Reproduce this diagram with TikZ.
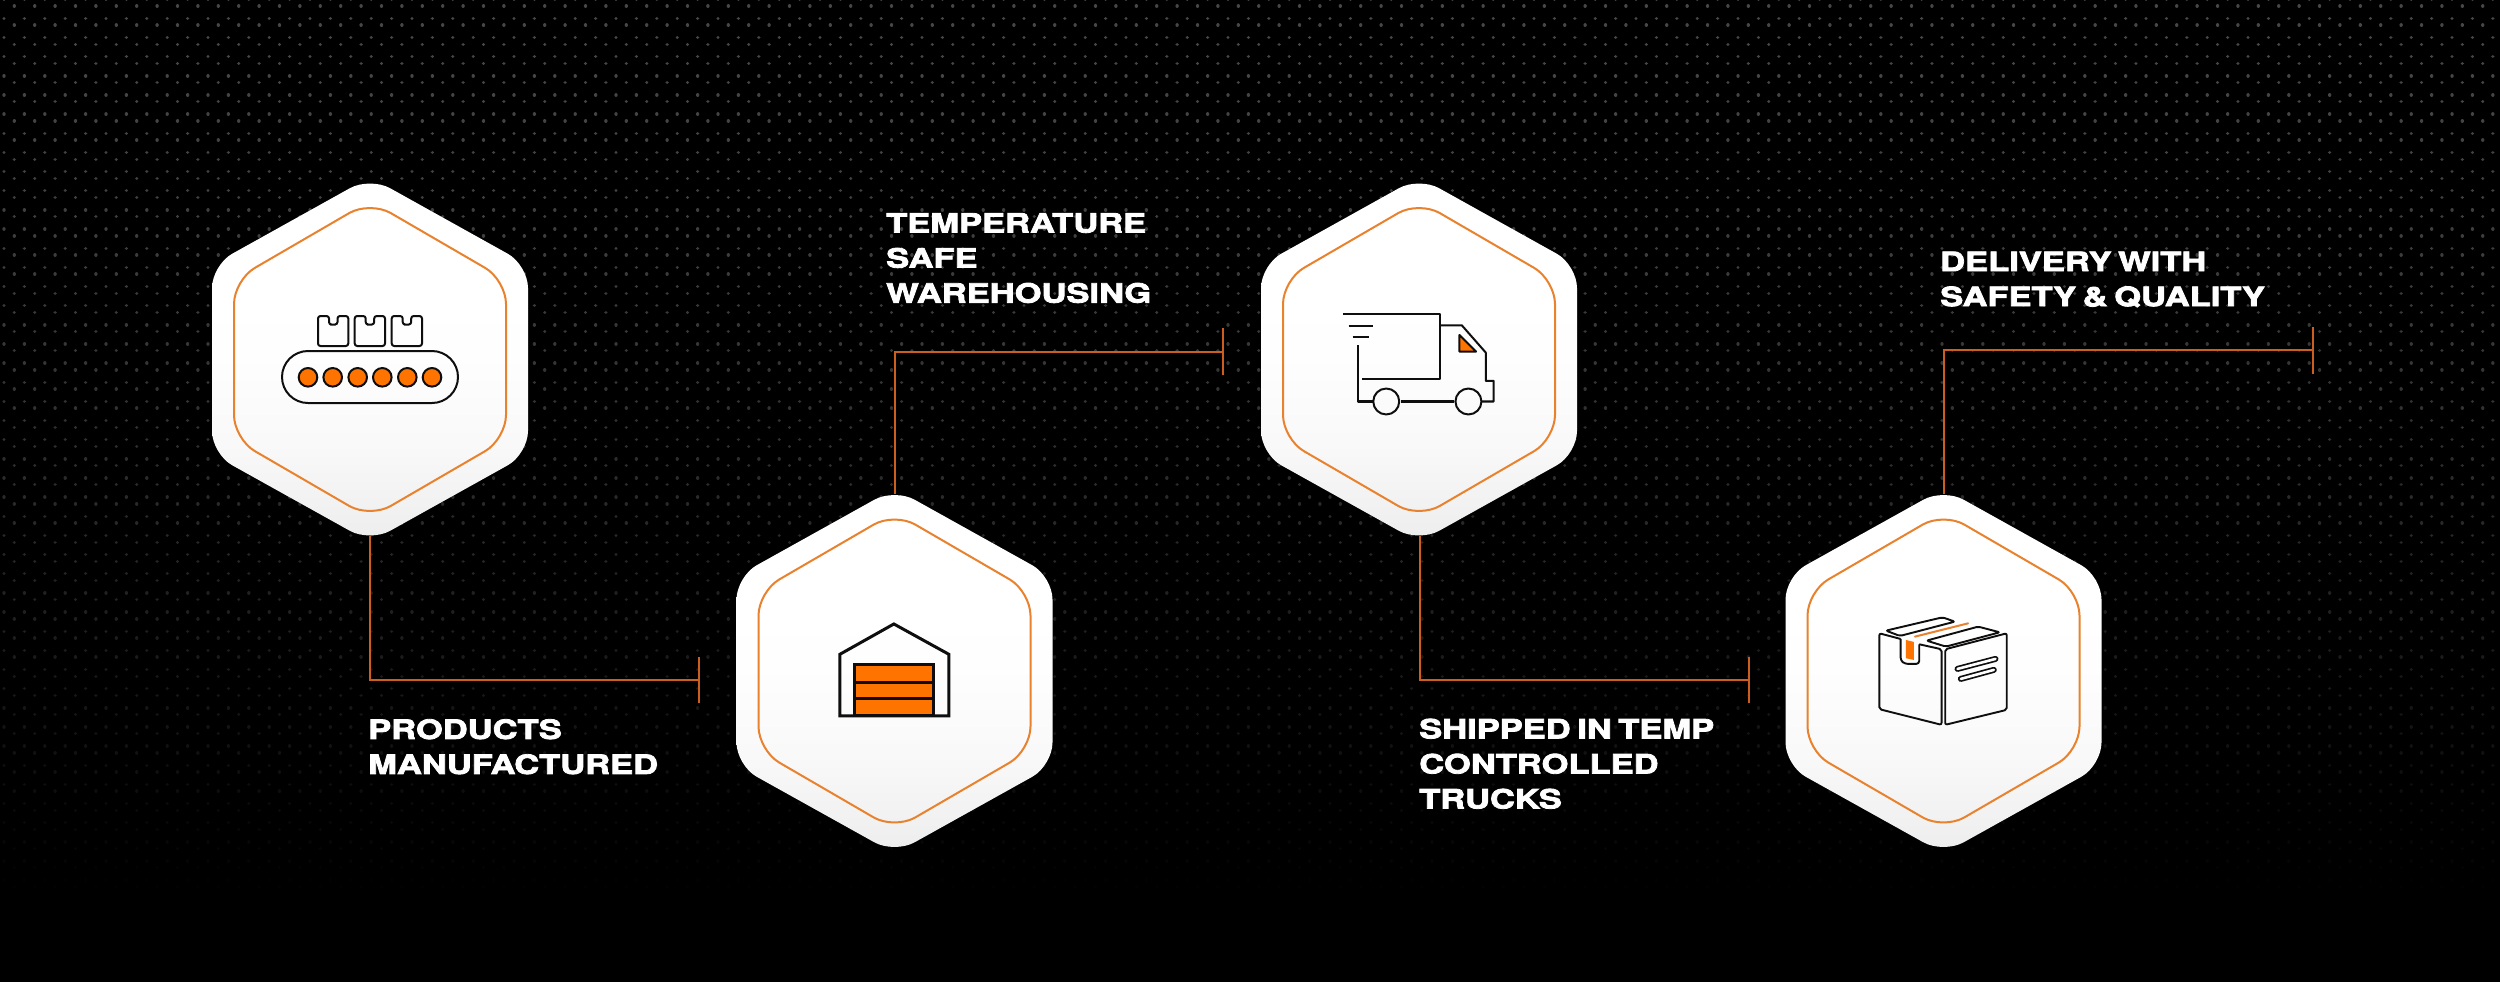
\documentclass[tikz,border=0pt]{standalone}
\usepackage{fontspec}
\newfontfamily\lblfont[FakeStretch=1.3,FakeBold=3,WordSpace=0.68]{TeX Gyre Heros Bold}
\definecolor{ink}{HTML}{0E0E0E}
\definecolor{orfill}{HTML}{FF7300}
\definecolor{orline}{HTML}{E8822E}
\definecolor{conncol}{HTML}{CC5E20}
\newlength{\pxl}\setlength{\pxl}{0.28453pt}
\pgfdeclareverticalshading{cellshade}{100bp}{color(0bp)=(black!7); color(25bp)=(black!7); color(38bp)=(black!2.5); color(50bp)=(black!0.5); color(58bp)=(white); color(100bp)=(white)}
\tikzset{
  hexbox/.style={minimum width=316\pxl,minimum height=352\pxl,inner sep=0pt,draw=none},
  conn/.style={draw=conncol,line width=2\pxl},
  icon/.style={draw=ink,line width=2\pxl,line join=round},
  parcel/.style={draw=ink,line width=1.9\pxl,line join=round},
  lbl/.style={anchor=north west,inner sep=0pt,align=left,text=white,font=\lblfont\fontsize{7.55pt}{9.96pt}\selectfont},
  zoomed/.style={shift={#1},x=0.0033333cm,y=-0.0033333cm},
  dotrow/.style={line width=3.4\pxl,line cap=round}
}
\newcommand{\hexcell}[4]{%
  \begin{scope}[shift={(#2,#3)}]
    \shade[shading=cellshade,rounded corners=23\pxl]
      (158,0) -- (158,94.5) -- (0,182.5) -- (-158,94.5) -- (-158,-94.5) -- (0,-182.5) -- (158,-94.5) -- cycle;
    \draw[draw=orline,line width=2\pxl,rounded corners=24\pxl]
      (136,0) -- (136,79.5) -- (0,158.5) -- (-136,79.5) -- (-136,-79.5) -- (0,-158.5) -- (136,-79.5) -- cycle;
  \end{scope}%
  \node[hexbox] (#1) at (#4,#3) {};%
}
\begin{document}
\begin{tikzpicture}[x=0.01cm,y=-0.01cm]
\useasboundingbox (0,0) rectangle (2500,981);
\fill[black] (-10,-10) rectangle (2510,991);
% dotted ground, fading towards the bottom
\foreach \j in {-1,...,46}{
  \pgfmathsetmacro{\ya}{18.4+19.15*\j}
  \pgfmathsetmacro{\yb}{6+19.15*\j}
  \pgfmathsetmacro{\pa}{max(0,28*(1-pow(max(\ya,1)/900,1.5)))}
  \pgfmathsetmacro{\pb}{max(0,28*(1-pow(max(\yb,1)/900,1.5)))}
  \draw[dotrow,draw=white!\pa!black] foreach \i in {0,...,122}{(4+20.4*\i,\ya) -- ++(0.02,0)};
  \draw[dotrow,draw=white!\pb!black] foreach \i in {0,...,122}{(14.3+20.4*\i,\yb) -- ++(0.02,0)};
}
% cells
\hexcell{h1}{370}{359.5}{370}
\hexcell{h2}{894.5}{671}{894.5}
\hexcell{h3}{1419}{359.5}{1420}
\hexcell{h4}{1943.5}{671}{1943.5}
% connector end points
\coordinate (e1) at (698.5,680); \coordinate (e1a) at (698.5,657); \coordinate (e1b) at (698.5,703);
\coordinate (e2) at (1223,352);  \coordinate (e2a) at (1223,328);  \coordinate (e2b) at (1223,375);
\coordinate (e3) at (1749,680);  \coordinate (e3a) at (1749,657);  \coordinate (e3b) at (1749,703);
\coordinate (e4) at (2313,350);  \coordinate (e4a) at (2313,327);  \coordinate (e4b) at (2313,373.5);
\draw[conn] (h1.south) |- (e1); \draw[conn] (e1a) -- (e1b);
\draw[conn] (h2.north) |- (e2); \draw[conn] (e2a) -- (e2b);
\draw[conn] (h3.south) |- (e3); \draw[conn] (e3a) -- (e3b);
\draw[conn] (h4.north) |- (e4); \draw[conn] (e4a) -- (e4b);
% labels
\node[lbl] (t1) at (367.5,718.5) {PRODUCTS\\MANUFACTURED};
\node[lbl] (t2) at (885.5,212.5) {TEMPERATURE\\SAFE\\WAREHOUSING};
\node[lbl] (t3) at (1418.5,718) {SHIPPED IN TEMP\\CONTROLLED\\TRUCKS};
\node[lbl] (t4) at (1939.5,251) {DELIVERY WITH\\SAFETY \& QUALITY};
% conveyor icon
\foreach \x in {318,354.7,391.7}{
  \begin{scope}[shift={(\x,0)}]
    \draw[icon,rounded corners=2.5\pxl] (15,324.5) -- (11,324.5) -- (11,316) -- (0,316) -- (0,346) -- (30.3,346) -- (30.3,316) -- (19.5,316) -- (19.5,324.5) -- cycle;
  \end{scope}
}
\draw[icon,rounded corners=26\pxl] (282,351) rectangle (458,403);
\foreach \x in {308,332.7,357.7,382.3,407.3,432}{
  \draw[icon,fill=orfill] (\x,377.3) circle[radius=9.3];
}
% warehouse icon
\begin{scope}[zoomed={(810,600)}]
  \draw[draw=ink,line width=3\pxl,line join=miter] (90,348) -- (90,163) -- (252,72) -- (417,163) -- (417,348) -- cycle;
  \draw[draw=ink,line width=3\pxl,fill=orfill] (135,348) rectangle (372,193);
  \draw[draw=ink,line width=3\pxl] (135,247) -- (372,247) (135,297) -- (372,297);
\end{scope}
% truck icon
\begin{scope}[zoomed={(1320,290)}]
  \draw[icon] (70,72) -- (362,72) -- (362,267) -- (126,267);
  \draw[icon] (362,106) -- (426,106) -- (498,188) -- (498,273) -- (522,273) -- (522,335) -- (487,335);
  \draw[icon] (243,335) -- (403,335);
  \draw[icon] (160,335) -- (114,335) -- (114,165);
  \draw[icon] (199,335) circle[radius=39];
  \draw[icon] (446,335) circle[radius=39];
  \draw[icon] (86,108) -- (158,108);
  \draw[icon] (98,141) -- (148,141);
  \draw[icon,fill=orfill] (419,135) -- (419,185) -- (469,185) -- cycle;
\end{scope}
% parcel icon
\begin{scope}[zoomed={(1860,600)}]
  \draw[parcel,rounded corners=2\pxl] (122,117) -- (58,100) -- (58,328) -- (245,375) -- (245,148) -- (178,133);
  \draw[parcel,rounded corners=2\pxl] (256,148) -- (441,100) -- (441,330) -- (256,375) -- cycle;
  \draw[parcel,rounded corners=2\pxl] (78,92) -- (248,52) -- (285,65) -- (120,108) -- cycle;
  \draw[parcel,rounded corners=2\pxl] (200,122) -- (355,80) -- (420,97) -- (258,140) -- cycle;
  \draw[draw=orline,line width=2\pxl,line cap=round] (165,110) -- (325,70);
  \draw[parcel,rounded corners=3\pxl] (122,117) -- (122,182) -- (135,192) -- (178,192) -- (178,133);
  \fill[orfill] (138,120) -- (162,126) -- (162,180) -- (138,175) -- cycle;
  \draw[draw=ink,line width=6\pxl,line cap=round] (293,207) -- (407,177);
  \draw[draw=white,line width=2.6\pxl,line cap=round] (293,207) -- (407,177);
  \draw[draw=ink,line width=6\pxl,line cap=round] (303,237) -- (402,210);
  \draw[draw=white,line width=2.6\pxl,line cap=round] (303,237) -- (402,210);
\end{scope}
\end{tikzpicture}
\end{document}
